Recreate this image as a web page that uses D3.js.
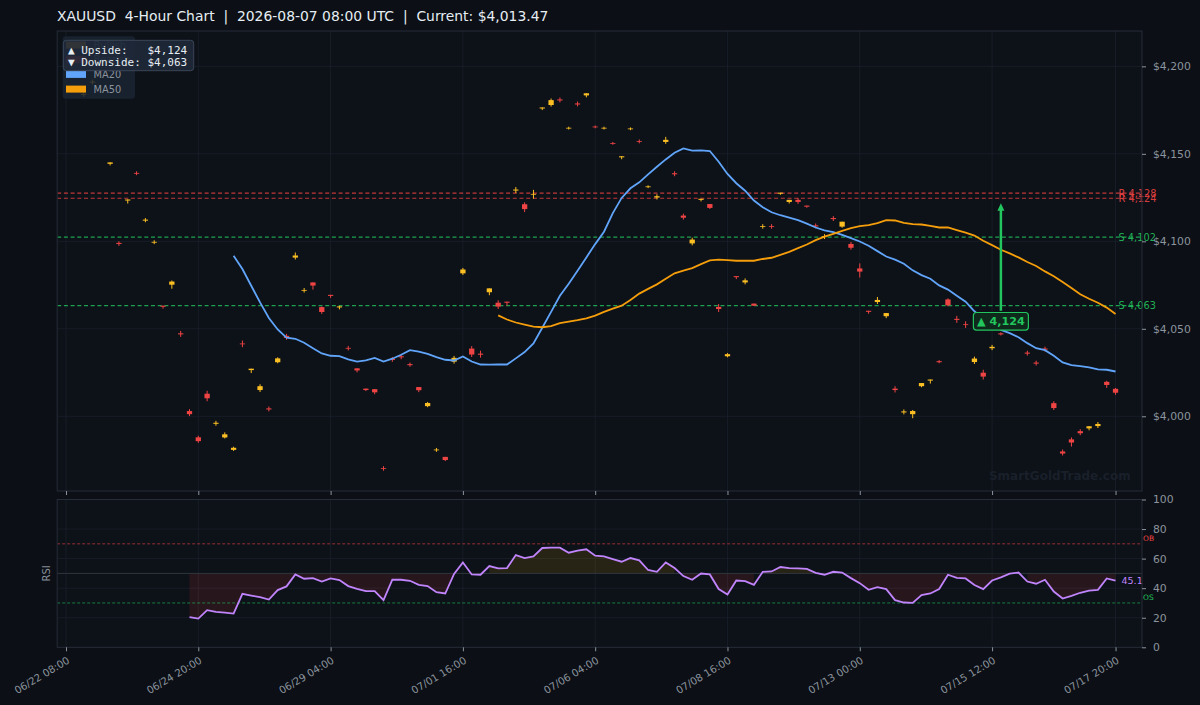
<!DOCTYPE html>
<html>
<head>
<meta charset="utf-8">
<title>XAUUSD 4-Hour Chart</title>
<script src="https://cdn.jsdelivr.net/npm/d3@7"></script>
<style>
  body { margin: 0; background: #0c0f15; }
  svg { display: block; font-family: "DejaVu Sans", sans-serif; }
  .mono { font-family: "DejaVu Sans Mono", monospace; white-space: pre; }
</style>
</head>
<body>
<svg id="chart" width="1200" height="705"></svg>
<script>
// ---- data ----
const opens = [
  4199.4, 4195.6, 4183.7, 4190.7, 4198.6, 4144.3, 4099.1, 4123.3, 4139.1, 4111.8,
  4099.3, 4063.2, 4075.2, 4047.4, 4003.0, 3988.0, 4012.9, 3995.7, 3987.9, 3980.8,
  4041.6, 4026.4, 4015.0, 4004.5, 4030.9, 4046.0, 4090.7, 4071.8, 4076.5, 4062.4,
  4069.4, 4062.2, 4039.1, 4027.4, 4015.8, 4015.5, 3970.4, 4032.8, 4034.3, 4029.8,
  4016.7, 4005.8, 3980.6, 3976.8, 4031.2, 4081.7, 4038.7, 4035.8, 4070.9, 4064.9,
  4065.5, 4129.0, 4121.2, 4126.7, 4175.9, 4177.9, 4181.1, 4164.5, 4178.8, 4183.4,
  4165.6, 4164.5, 4156.2, 4148.0, 4164.1, 4157.3, 4131.0, 4125.0, 4156.8, 4138.9,
  4114.7, 4098.8, 4123.7, 4121.3, 4062.5, 4034.3, 4080.1, 4076.5, 4064.4, 4108.3,
  4108.7, 4127.2, 4122.5, 4123.7, 4120.4, 4109.1, 4102.4, 4113.3, 4108.4, 4098.5,
  4084.5, 4060.3, 4065.3, 4057.2, 4015.8, 4002.2, 4001.2, 4017.2, 4020.4, 4031.5,
  4066.8, 4055.7, 4052.6, 4031.0, 4024.9, 4038.9, 4047.4, 4055.3, 4050.7, 4036.4,
  4030.7, 4038.7, 4007.5, 3979.9, 3986.8, 3991.5, 3993.1, 3994.4, 4019.7, 4015.7
];
const highs = [
  4201.5, 4196.5, 4185.4, 4192.4, 4199.5, 4145.1, 4100.0, 4123.9, 4140.0, 4113.3,
  4100.6, 4063.2, 4077.6, 4048.8, 4004.1, 3988.9, 4014.6, 3997.4, 3990.8, 3982.6,
  4043.3, 4027.2, 4018.3, 4005.6, 4033.7, 4047.1, 4093.6, 4073.3, 4076.5, 4062.7,
  4069.4, 4063.1, 4040.2, 4027.4, 4015.8, 4015.5, 3971.5, 4033.9, 4035.4, 4030.7,
  4016.7, 4008.2, 3981.9, 3976.8, 4034.5, 4084.8, 4040.1, 4037.5, 4073.1, 4066.3,
  4065.5, 4131.0, 4122.3, 4129.4, 4176.5, 4181.6, 4182.2, 4165.5, 4179.9, 4184.6,
  4166.2, 4165.5, 4156.8, 4148.6, 4165.1, 4158.2, 4132.0, 4126.9, 4159.7, 4140.0,
  4115.8, 4102.1, 4124.3, 4121.3, 4064.2, 4036.1, 4080.1, 4078.8, 4064.4, 4109.8,
  4109.8, 4127.8, 4123.7, 4124.8, 4120.4, 4110.2, 4104.1, 4114.4, 4111.2, 4099.6,
  4087.4, 4060.3, 4068.2, 4059.0, 4017.2, 4003.9, 4003.6, 4019.0, 4021.0, 4032.1,
  4067.4, 4057.4, 4054.3, 4034.1, 4026.6, 4040.8, 4048.0, 4056.2, 4052.2, 4037.5,
  4031.8, 4039.8, 4008.6, 3981.0, 3987.9, 3992.6, 3994.3, 3996.7, 4020.3, 4016.2
];
const lows = [
  4198.5, 4193.5, 4182.6, 4189.6, 4196.5, 4143.4, 4097.4, 4121.6, 4137.8, 4110.9,
  4098.4, 4061.5, 4072.9, 4045.4, 4000.1, 3984.9, 4008.6, 3994.6, 3987.3, 3980.2,
  4039.5, 4024.7, 4013.9, 4002.8, 4030.3, 4043.7, 4089.6, 4070.7, 4072.4, 4058.5,
  4067.7, 4061.1, 4037.6, 4025.1, 4014.4, 4012.6, 3968.9, 4031.1, 4032.6, 4028.3,
  4013.8, 4005.2, 3979.7, 3974.4, 4030.1, 4080.8, 4033.9, 4033.5, 4069.2, 4061.3,
  4063.2, 4127.6, 4116.7, 4124.4, 4175.0, 4177.0, 4179.4, 4163.9, 4177.1, 4182.3,
  4164.6, 4163.9, 4155.2, 4146.9, 4163.5, 4156.0, 4130.4, 4123.9, 4155.7, 4137.2,
  4112.4, 4097.7, 4122.8, 4118.5, 4059.6, 4033.7, 4078.4, 4075.4, 4063.2, 4107.2,
  4107.2, 4126.6, 4121.6, 4121.4, 4119.2, 4107.4, 4101.3, 4111.6, 4107.8, 4095.2,
  4079.3, 4058.6, 4064.2, 4056.1, 4013.6, 4001.1, 3998.9, 4016.6, 4018.7, 4030.3,
  4062.8, 4053.4, 4050.5, 4029.9, 4021.0, 4037.8, 4046.2, 4053.8, 4049.8, 4034.7,
  4029.0, 4037.0, 4003.6, 3977.6, 3982.7, 3989.2, 3992.0, 3993.3, 4016.2, 4012.3
];
const closes = [
  4200.6, 4194.4, 4184.3, 4191.3, 4197.4, 4145.1, 4098.5, 4123.9, 4138.7, 4112.4,
  4099.7, 4062.6, 4077.0, 4046.8, 4001.2, 3985.8, 4010.3, 3996.3, 3989.7, 3982.0,
  4041.2, 4027.2, 4017.2, 4003.9, 4033.1, 4044.8, 4091.9, 4072.2, 4074.7, 4059.6,
  4068.8, 4062.8, 4038.7, 4026.2, 4015.0, 4013.7, 3970.0, 4032.2, 4033.7, 4029.2,
  4014.9, 4007.6, 3981.0, 3975.0, 4033.4, 4083.9, 4035.3, 4035.2, 4073.1, 4062.7,
  4064.9, 4129.6, 4118.4, 4127.1, 4176.5, 4180.7, 4180.5, 4164.9, 4178.2, 4184.6,
  4165.2, 4164.9, 4155.8, 4148.6, 4164.5, 4156.9, 4131.4, 4125.8, 4158.0, 4138.3,
  4113.5, 4101.0, 4124.3, 4119.1, 4061.3, 4035.5, 4079.5, 4077.7, 4063.2, 4108.7,
  4108.3, 4127.8, 4123.7, 4122.5, 4119.8, 4108.5, 4103.0, 4112.7, 4111.2, 4096.3,
  4082.7, 4059.7, 4066.5, 4059.0, 4015.0, 4002.8, 4003.0, 4019.0, 4021.0, 4030.9,
  4063.4, 4055.1, 4052.2, 4033.0, 4022.7, 4039.7, 4046.8, 4054.7, 4051.3, 4035.8,
  4030.1, 4038.1, 4004.7, 3978.7, 3985.0, 3990.3, 3994.3, 3995.6, 4017.9, 4013.47
];

// moving averages and RSI as drawn (first index of each series given separately)
const ma20Start = 19;
const ma20 = [
  4091.7, 4084.2, 4074.6, 4065.1, 4056.2, 4049.6, 4045.0, 4044.3, 4042.0, 4038.9,
  4035.9, 4034.6, 4034.4, 4032.5, 4031.3, 4032.0, 4033.4, 4031.3, 4032.9, 4035.2,
  4037.8, 4036.9, 4035.7, 4033.8, 4032.3, 4031.9, 4034.2, 4031.3, 4029.6, 4029.5,
  4029.6, 4029.6, 4033.1, 4036.7, 4041.6, 4050.6, 4059.7, 4068.9, 4075.8, 4083.2,
  4090.8, 4098.4, 4105.5, 4116.1, 4124.8, 4130.3, 4133.7, 4138.3, 4142.6, 4146.8,
  4150.6, 4153.1, 4151.8, 4152.0, 4151.6, 4145.5, 4138.5, 4133.2, 4128.9, 4123.3,
  4119.5, 4116.6, 4114.9, 4113.6, 4112.1, 4110.1, 4107.9, 4106.2, 4105.2, 4103.7,
  4101.8, 4099.9, 4097.5, 4094.4, 4091.3, 4089.5, 4087.2, 4083.4, 4080.7, 4078.6,
  4074.8, 4072.4, 4068.9, 4065.5, 4060.0, 4055.7, 4051.9, 4049.4, 4047.5, 4045.2,
  4041.8, 4038.9, 4037.8, 4034.6, 4030.8, 4029.2, 4028.7, 4027.9, 4026.8, 4026.6,
  4025.6
];
const ma50Start = 49;
const ma50 = [
  4057.7, 4055.3, 4053.6, 4052.4, 4051.3, 4050.9, 4051.5, 4053.2, 4054.1, 4054.9,
  4056.0, 4057.5, 4059.7, 4061.5, 4063.2, 4066.5, 4070.1, 4072.8, 4075.4, 4078.6,
  4081.7, 4083.2, 4084.7, 4087.0, 4089.1, 4089.5, 4089.3, 4088.9, 4088.9, 4088.9,
  4089.9, 4090.6, 4092.3, 4094.0, 4096.1, 4098.2, 4100.7, 4102.7, 4104.3, 4106.0,
  4107.5, 4108.7, 4109.3, 4110.4, 4112.1, 4111.9, 4110.5, 4109.8, 4109.6, 4108.8,
  4107.9, 4107.9, 4106.4, 4105.0, 4103.3, 4100.3, 4097.8, 4095.2, 4093.1, 4090.8,
  4088.2, 4085.9, 4082.8, 4080.0, 4076.7, 4073.3, 4069.7, 4067.2, 4064.9, 4062.1,
  4058.5
];
const rsiStart = 14;
const rsi = [
  20.4, 19.4, 25.1, 24.0, 23.5, 22.8, 36.2, 35.0, 33.9, 32.3,
  38.7, 41.2, 49.3, 46.4, 46.8, 44.5, 46.6, 45.5, 41.4, 39.6,
  38.0, 38.0, 31.9, 45.7, 45.7, 45.0, 42.3, 41.4, 37.3, 36.4,
  49.6, 57.4, 49.3, 49.1, 55.0, 53.4, 53.6, 62.4, 60.4, 61.5,
  67.2, 67.4, 67.4, 64.0, 65.4, 66.3, 62.0, 61.5, 59.7, 57.9,
  60.4, 58.8, 52.3, 51.1, 57.4, 53.6, 48.2, 45.7, 49.9, 49.3,
  39.4, 35.7, 45.2, 44.8, 42.3, 51.1, 51.3, 54.3, 53.6, 53.4,
  53.0, 50.4, 49.1, 51.1, 50.6, 46.8, 43.4, 38.9, 40.7, 39.4,
  31.9, 30.3, 30.1, 35.3, 36.4, 39.4, 49.1, 47.0, 46.6, 42.1,
  39.4, 45.2, 47.3, 49.8, 50.6, 44.5, 43.0, 45.7, 37.7, 33.0,
  34.8, 36.9, 38.4, 38.9, 46.6, 45.1
];

const xTickIdx = [0, 15, 30, 45, 60, 75, 90, 105, 119];
const xTickLabels = ['06/22 08:00', '06/24 20:00', '06/29 04:00', '07/01 16:00', '07/06 04:00',
  '07/08 16:00', '07/13 00:00', '07/15 12:00', '07/17 20:00'];
const priceTicks = [4000, 4050, 4100, 4150, 4200];
const rsiTicks = [0, 20, 40, 60, 80, 100];
const levels = [
  { label: 'R 4,128', value: 4127.5, kind: 'R' },
  { label: 'R 4,124', value: 4124.6, kind: 'R' },
  { label: 'S 4,102', value: 4102.4, kind: 'S' },
  { label: 'S 4,063', value: 4063.2, kind: 'S' }
];
const target = { idx: 106, from: 4060.3, to: 4121.7, label: '▲ 4,124', labelAt: 4054.3 };
const titleText = 'XAUUSD  4-Hour Chart  |  2026-08-07 08:00 UTC  |  Current: $4,013.47';
const infoLines = ['▲ Upside:   $4,124', '▼ Downside: $4,063'];
const legendItems = [
  { name: 'Bullish', color: '#fbbf24' },
  { name: 'Bearish', color: '#ef4444' },
  { name: 'MA20', color: '#60a5fa' },
  { name: 'MA50', color: '#f59e0b' }
];

// ---- layout ----
const svg = d3.select('#chart');
const plot = { left: 57.2, right: 1142, top: 31, bottom: 491 };
const rsiBox = { top: 499.5, bottom: 647.3 };
const bull = '#fbbf24', bear = '#ef4444', green = '#22c55e';
const gridColor = '#1b212b', spineColor = '#262d38', textColor = '#8b949e';

const x = d3.scaleLinear().domain([-1, 122]).range([plot.left, plot.right]);
const y = d3.scaleLinear().domain([3957.3, 4220.2]).range([plot.bottom, plot.top]);
const yr = d3.scaleLinear().domain([0, 100]).range([rsiBox.bottom, rsiBox.top]);
const step = x(1) - x(0);

svg.append('rect').attr('width', 1200).attr('height', 705).attr('fill', '#0c0f15');

// panel backgrounds
[[plot.top, plot.bottom], [rsiBox.top, rsiBox.bottom]].forEach(([t, b]) => {
  svg.append('rect').attr('x', plot.left).attr('y', t)
    .attr('width', plot.right - plot.left).attr('height', b - t)
    .attr('fill', '#0d1118');
});

const defs = svg.append('defs');
defs.append('clipPath').attr('id', 'clipMain').append('rect')
  .attr('x', plot.left).attr('y', plot.top)
  .attr('width', plot.right - plot.left).attr('height', plot.bottom - plot.top);
defs.append('clipPath').attr('id', 'clipRsi').append('rect')
  .attr('x', plot.left).attr('y', rsiBox.top)
  .attr('width', plot.right - plot.left).attr('height', rsiBox.bottom - rsiBox.top);

// grids
const grid = svg.append('g').attr('stroke', gridColor).attr('stroke-width', 0.8);
grid.selectAll('.hg').data(priceTicks).join('line')
  .attr('x1', plot.left).attr('x2', plot.right)
  .attr('y1', d => y(d)).attr('y2', d => y(d));
grid.selectAll('.hr').data([20, 40, 60, 80]).join('line')
  .attr('x1', plot.left).attr('x2', plot.right)
  .attr('y1', d => yr(d)).attr('y2', d => yr(d));
grid.selectAll('.vg').data(xTickIdx).join('line')
  .attr('x1', d => x(d)).attr('x2', d => x(d))
  .attr('y1', plot.top).attr('y2', plot.bottom);
grid.selectAll('.vr').data(xTickIdx).join('line')
  .attr('x1', d => x(d)).attr('x2', d => x(d))
  .attr('y1', rsiBox.top).attr('y2', rsiBox.bottom);

// ---- main panel ----
const main = svg.append('g').attr('clip-path', 'url(#clipMain)');

// support / resistance
main.selectAll('.lvl').data(levels).join('line')
  .attr('x1', plot.left).attr('x2', plot.right)
  .attr('y1', d => y(d.value)).attr('y2', d => y(d.value))
  .attr('stroke', d => d.kind === 'R' ? bear : green)
  .attr('stroke-opacity', 0.8)
  .attr('stroke-width', 1.2)
  .attr('stroke-dasharray', '4,2.7');

// candles
const candles = closes.map((c, i) => ({ i, o: opens[i], h: highs[i], l: lows[i], c }));
main.selectAll('.wick').data(candles).join('line')
  .attr('x1', d => x(d.i)).attr('x2', d => x(d.i))
  .attr('y1', d => y(d.h)).attr('y2', d => y(d.l))
  .attr('stroke', d => d.c >= d.o ? bull : bear)
  .attr('stroke-width', 1);
main.selectAll('.body').data(candles).join('rect')
  .attr('x', d => x(d.i) - step * 0.3)
  .attr('width', step * 0.6)
  .attr('y', d => y(Math.max(d.o, d.c)))
  .attr('height', d => Math.max(0.8, Math.abs(y(d.o) - y(d.c))))
  .attr('fill', d => d.c >= d.o ? bull : bear);

// moving averages
const ma20Pts = ma20.map((v, k) => ({ i: ma20Start + k, v }));
const ma50Pts = ma50.map((v, k) => ({ i: ma50Start + k, v }));
const priceLine = d3.line().x(d => x(d.i)).y(d => y(d.v));
main.append('path').datum(ma20Pts).attr('d', priceLine)
  .attr('fill', 'none').attr('stroke', '#60a5fa').attr('stroke-width', 1.8);
main.append('path').datum(ma50Pts).attr('d', priceLine)
  .attr('fill', 'none').attr('stroke', '#f59e0b').attr('stroke-width', 1.8);

// watermark
svg.append('text').attr('x', 1130.7).attr('y', 476)
  .attr('text-anchor', 'end').attr('dominant-baseline', 'central')
  .attr('font-size', 12).attr('font-weight', 'bold')
  .attr('fill', '#19202a').text('SmartGoldTrade.com');

// level labels
svg.selectAll('.lvlText').data(levels).join('text')
  .attr('x', 1118.5).attr('y', d => y(d.value))
  .attr('dominant-baseline', 'central')
  .attr('font-size', 9.8)
  .attr('fill', d => d.kind === 'R' ? bear : green)
  .attr('fill-opacity', 0.9)
  .text(d => d.label);

// target arrow
const ax = x(target.idx);
svg.append('line').attr('x1', ax).attr('x2', ax)
  .attr('y1', y(target.from)).attr('y2', y(target.to) + 6)
  .attr('stroke', green).attr('stroke-width', 2.5);
svg.append('path')
  .attr('d', `M${ax},${y(target.to)} L${ax - 3.5},${y(target.to) + 7.5} L${ax + 3.5},${y(target.to) + 7.5} Z`)
  .attr('fill', green);
const lbl = svg.append('g').attr('transform', `translate(${ax},${y(target.labelAt)})`);
lbl.append('rect').attr('x', -27.5).attr('y', -8.8).attr('width', 55).attr('height', 17.6)
  .attr('rx', 3).attr('fill', '#0f2a1c').attr('stroke', green).attr('stroke-width', 1.2);
lbl.append('text').attr('text-anchor', 'middle').attr('dominant-baseline', 'central')
  .attr('font-size', 11.2).attr('font-weight', 'bold').attr('fill', green)
  .text(target.label);

// ---- RSI panel ----
const rp = svg.append('g').attr('clip-path', 'url(#clipRsi)');
const rsiPts = rsi.map((v, k) => ({ i: rsiStart + k, v }));
rp.append('path').datum(rsiPts)
  .attr('d', d3.area().defined(d => d.v < 50).x(d => x(d.i)).y0(yr(50)).y1(d => yr(d.v)))
  .attr('fill', bear).attr('fill-opacity', 0.12);
rp.append('path').datum(rsiPts)
  .attr('d', d3.area().defined(d => d.v > 50).x(d => x(d.i)).y0(yr(50)).y1(d => yr(d.v)))
  .attr('fill', '#eab308').attr('fill-opacity', 0.12);
rp.append('line').attr('x1', plot.left).attr('x2', plot.right)
  .attr('y1', yr(50)).attr('y2', yr(50))
  .attr('stroke', '#30363d').attr('stroke-width', 1);
[[70, bear], [30, green]].forEach(([v, c]) => {
  rp.append('line').attr('x1', plot.left).attr('x2', plot.right)
    .attr('y1', yr(v)).attr('y2', yr(v))
    .attr('stroke', c).attr('stroke-opacity', 0.6)
    .attr('stroke-width', 1).attr('stroke-dasharray', '3,2');
});
rp.append('path').datum(rsiPts)
  .attr('d', d3.line().x(d => x(d.i)).y(d => yr(d.v)))
  .attr('fill', 'none').attr('stroke', '#c084fc').attr('stroke-width', 1.8);

svg.append('text').attr('x', x(119) + 6).attr('y', yr(rsi[rsi.length - 1]))
  .attr('dominant-baseline', 'central').attr('font-size', 9.5)
  .attr('fill', '#c084fc').text(rsi[rsi.length - 1].toFixed(1));
svg.append('text').attr('x', 1143).attr('y', yr(70) - 5.5)
  .attr('dominant-baseline', 'central').attr('font-size', 7.5)
  .attr('fill', bear).text('OB');
svg.append('text').attr('x', 1143).attr('y', yr(30) - 5.5)
  .attr('dominant-baseline', 'central').attr('font-size', 7.5)
  .attr('fill', green).text('OS');

// spines
[[plot.top, plot.bottom], [rsiBox.top, rsiBox.bottom]].forEach(([t, b]) => {
  svg.append('rect').attr('x', plot.left).attr('y', t)
    .attr('width', plot.right - plot.left).attr('height', b - t)
    .attr('fill', 'none').attr('stroke', spineColor).attr('stroke-width', 1);
});

// ---- axes ----
const styleAxis = g => {
  g.select('.domain').remove();
  g.selectAll('.tick line').attr('stroke', textColor);
  g.selectAll('.tick text').attr('fill', textColor).attr('font-size', 10.8)
    .attr('font-family', '"DejaVu Sans", sans-serif');
};
svg.append('g').attr('transform', `translate(${plot.right},0)`)
  .call(d3.axisRight(y).tickValues(priceTicks).tickSize(4).tickPadding(7)
    .tickFormat(d => '$' + d3.format(',')(d)))
  .call(styleAxis);
svg.append('g').attr('transform', `translate(${plot.right},0)`)
  .call(d3.axisRight(yr).tickValues(rsiTicks).tickSize(4).tickPadding(7))
  .call(styleAxis);
svg.append('g').attr('transform', `translate(0,${plot.bottom})`)
  .call(d3.axisBottom(x).tickValues(xTickIdx).tickSize(4).tickFormat(''))
  .call(styleAxis);
const xa = svg.append('g').attr('transform', `translate(0,${rsiBox.bottom})`)
  .call(d3.axisBottom(x).tickValues(xTickIdx).tickSize(4)
    .tickFormat((d, k) => xTickLabels[k]))
  .call(styleAxis);
xa.selectAll('.tick text')
  .attr('x', 0).attr('y', 0).attr('dy', null)
  .attr('text-anchor', 'end').attr('dominant-baseline', 'central')
  .attr('transform', 'translate(2,12) rotate(-31)')
  .attr('font-size', 10.2);

svg.append('text').attr('transform', `translate(46,${(rsiBox.top + rsiBox.bottom) / 2}) rotate(-90)`)
  .attr('text-anchor', 'middle').attr('dominant-baseline', 'central')
  .attr('font-size', 10).attr('fill', textColor).text('RSI');

// title
svg.append('text').attr('x', 57).attr('y', 21)
  .attr('font-size', 13.9).attr('fill', '#e6edf3')
  .style('white-space', 'pre').text(titleText);

// legend
const lg = svg.append('g');
lg.append('rect').attr('x', 62.7).attr('y', 36.3).attr('width', 72.3).attr('height', 62.4)
  .attr('rx', 3).attr('fill', '#1b2432').attr('fill-opacity', 0.85);
lg.selectAll('.sw').data(legendItems).join('rect')
  .attr('x', 66).attr('y', (d, k) => 41.5 + k * 14.7)
  .attr('width', 20).attr('height', 7).attr('fill', d => d.color);
lg.selectAll('.lt').data(legendItems).join('text')
  .attr('x', 93.5).attr('y', (d, k) => 45 + k * 14.7)
  .attr('dominant-baseline', 'central').attr('font-size', 9.8)
  .attr('fill', textColor).text(d => d.name);

// info box
const ib = svg.append('g');
ib.append('rect').attr('x', 63.3).attr('y', 40.3).attr('width', 130.4).attr('height', 30.4)
  .attr('rx', 3).attr('fill', '#1e2838').attr('fill-opacity', 0.92)
  .attr('stroke', '#3a4658').attr('stroke-width', 1);
ib.selectAll('text').data(infoLines).join('text')
  .attr('class', 'mono')
  .attr('x', 68).attr('y', (d, k) => 50.8 + k * 11.7)
  .attr('dominant-baseline', 'central').attr('font-size', 11)
  .attr('fill', '#e6edf3').text(d => d);
</script>
</body>
</html>
